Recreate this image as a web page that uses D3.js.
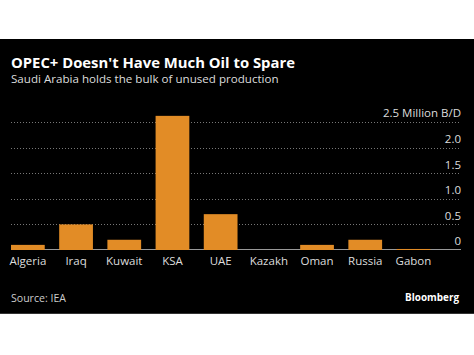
<!DOCTYPE html>
<html><head><meta charset="utf-8">
<script src="https://cdn.jsdelivr.net/npm/d3@7/dist/d3.min.js"></script>
<style>html,body{margin:0;padding:0;background:#fff;}svg{display:block;}</style>
</head><body>
<script>
const categories = ["Algeria","Iraq","Kuwait","KSA","UAE","Kazakh","Oman","Russia","Gabon"];
const values = [0.1, 0.5, 0.2, 2.62, 0.7, 0.0, 0.1, 0.2, 0.02];
const tickValues = [0, 0.5, 1.0, 1.5, 2.0, 2.5];
const tickLabels = ["0", "0.5", "1.0", "1.5", "2.0", "2.5 Million B/D"];

const W = 474, H = 355;
const svg = d3.select("body").append("svg").attr("width", W).attr("height", H);
svg.append("rect").attr("x",0).attr("y",39).attr("width",W).attr("height",275).attr("fill","#000");
svg.append("rect").attr("x",0).attr("y",313).attr("width",W).attr("height",1).attr("fill","#333");

const font = "'Open Sans', 'DejaVu Sans', sans-serif";
function fitText(sel, target) {
  const len = sel.node().getComputedTextLength();
  const fs = parseFloat(sel.attr("font-size"));
  sel.attr("font-size", fs * target / len);
}

const title = svg.append("text").attr("x",11).attr("y",67.5).attr("fill","#fff")
  .attr("font-family",font).attr("font-weight","bold").attr("font-size",14)
  .text("OPEC+ Doesn't Have Much Oil to Spare");
fitText(title, 284);
const sub = svg.append("text").attr("x",11).attr("y",82.5).attr("fill","#ddd")
  .attr("font-family",font).attr("font-size",12)
  .text("Saudi Arabia holds the bulk of unused production");
fitText(sub, 268);

const x = d3.scaleBand().domain(categories).range([11, 430.3]).paddingInner(0.3).paddingOuter(0);
const y = d3.scaleLinear().domain([0, 2.5]).range([250, 122]);

// gridlines
const grid = svg.append("g");
grid.selectAll("line").data(tickValues.filter(d => d > 0)).join("line")
  .attr("x1", 11).attr("x2", 461)
  .attr("y1", d => Math.round(y(d)) + 0.5).attr("y2", d => Math.round(y(d)) + 0.5)
  .attr("stroke", "#777").attr("stroke-width", 1).attr("stroke-dasharray", "1,2");

// baseline
svg.append("line").attr("x1", 11).attr("x2", 461).attr("y1", y(0) - 0.5).attr("y2", y(0) - 0.5)
  .attr("stroke", "#999").attr("stroke-width", 1);

// bars
svg.append("g").selectAll("rect").data(values).join("rect")
  .attr("x", (d,i) => x(categories[i]))
  .attr("width", x.bandwidth())
  .attr("y", d => y(d) - (d > 0 && y(0) - y(d) < 1 ? 1 : 0))
  .attr("height", d => d > 0 ? Math.max(1, y(0) - y(d)) : 0)
  .attr("fill", "#e28c26");

// y labels
const yAxis = d3.axisRight(y).tickValues(tickValues).tickSize(0).tickFormat((d,i) => tickLabels[i]);
const ya = svg.append("g").attr("transform", "translate(461,0)").call(yAxis);
ya.select(".domain").remove();
ya.selectAll("text").attr("x", 0).attr("dy", "-0.45em").attr("text-anchor","end")
  .attr("fill","#ddd").attr("font-family",font).attr("font-size",11.5);

// x labels
const xAxis = d3.axisBottom(x).tickSize(0);
const xa = svg.append("g").attr("transform", "translate(0,250)").call(xAxis);
xa.select(".domain").remove();
xa.selectAll("text").attr("y", 0).attr("dy", "14.5px")
  .attr("fill","#ddd").attr("font-family",font).attr("font-size",11.5);

const src = svg.append("text").attr("x",11).attr("y",302).attr("fill","#ccc")
  .attr("font-family",font).attr("font-size",10.5).text("Source: IEA");
fitText(src, 55);
const bb = svg.append("text").attr("x",459).attr("y",301).attr("text-anchor","end").attr("fill","#fff")
  .attr("font-family",font).attr("font-weight","bold").attr("font-size",11).text("Bloomberg");
fitText(bb, 54);
</script>
</body></html>
